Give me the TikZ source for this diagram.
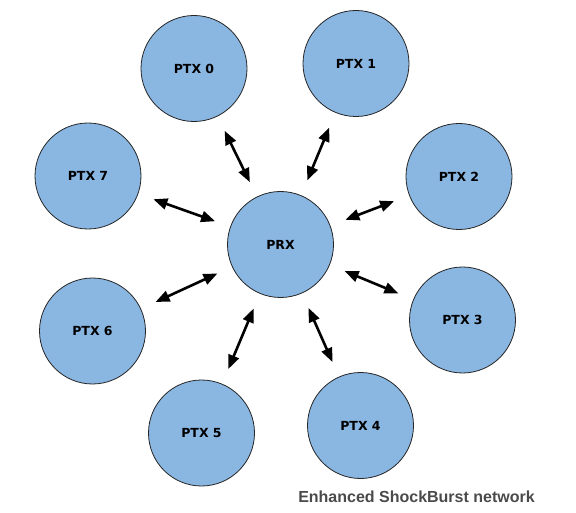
\documentclass[tikz,border=0pt]{standalone}
\usepackage{fontspec}
\setmainfont{Liberation Sans}
\newfontfamily\labfont{DejaVu Sans}
\usetikzlibrary{arrows.meta}
\definecolor{nodeblue}{HTML}{8AB6E2}
\definecolor{capgray}{HTML}{4A4A4A}
\begin{document}
\begin{tikzpicture}[x=1pt,y=-1pt,
  station/.style={circle,draw=black!85,line width=0.8pt,fill=nodeblue,minimum size=106pt,inner sep=0pt,
    font=\labfont\bfseries\fontsize{12.5}{14}\selectfont},
  link/.style={line width=2.6pt,{Triangle[length=14pt,width=11pt]}-{Triangle[length=14pt,width=11pt]},
    shorten <=16pt, shorten >=16pt}]
\useasboundingbox (0,0) rectangle (576,513);
\node[station] (prx) at (280.5,244.5) {PRX};
\node[station] (p0) at (194,68.5) {PTX 0};
\node[station] (p1) at (356,63.5) {PTX 1};
\node[station] (p2) at (459,176.5) {PTX 2};
\node[station] (p3) at (462.5,320) {PTX 3};
\node[station] (p4) at (360.5,425.5) {PTX 4};
\node[station] (p5) at (201.5,433) {PTX 5};
\node[station] (p6) at (92.5,331) {PTX 6};
\node[station] (p7) at (88,176) {PTX 7};
\foreach \n in {p0,p1,p2,p3,p4,p5,p6,p7}
  \draw[link] (\n) -- (prx);
\node[font=\bfseries\fontsize{16}{18}\selectfont,text=capgray] (cap) at (416.5,497) {Enhanced ShockBurst network};
\end{tikzpicture}
\end{document}
